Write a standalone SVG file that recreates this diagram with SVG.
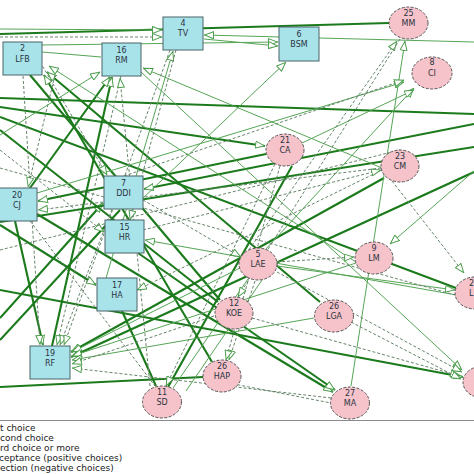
<svg xmlns="http://www.w3.org/2000/svg" width="474" height="474" viewBox="0 0 474 474">
<defs>
<style>
.sq{fill:#a9e3ea;stroke:#4a6468;stroke-width:1}
.ci{fill:#f6c3ca;stroke:#555;stroke-width:1;stroke-dasharray:3,1.5}
.lb{font-family:"DejaVu Sans",Verdana,sans-serif;font-size:8px;fill:#2a3340;text-anchor:middle}
.t{stroke:#1b7a1b;stroke-width:2.1;fill:none}
.s{stroke:#55a555;stroke-width:1;fill:none}
.d{stroke:#66856a;stroke-width:1;stroke-dasharray:3,2;fill:none}
.lg{font-family:"DejaVu Sans",Verdana,sans-serif;font-size:9px;fill:#222}
</style>
<marker id="ah" viewBox="0 0 10 8" refX="10" refY="4" markerWidth="10" markerHeight="8" markerUnits="userSpaceOnUse" orient="auto">
<path d="M0.5,0.5 L9.5,4 L0.5,7.5 Z" fill="#fff" stroke="#4c9e4c" stroke-width="1"/>
</marker>
</defs>
<rect width="474" height="474" fill="#fff"/>

<g id="connectors">
<!-- thick: first choice -->
<path class="t" d="M0,34 L389,23"/>
<path class="t" d="M0,98 L474,114"/>
<path class="t" d="M0,107 L265,146" marker-end="url(#ah)"/>
<path class="t" d="M0,117 L456,288"/>
<path class="t" d="M30,75 L220,300"/>
<path class="t" d="M320,302 L47,72" marker-end="url(#ah)"/>
<path class="t" d="M212,362 L44,75" marker-end="url(#ah)"/>
<path class="t" d="M384,178 L71,352" marker-end="url(#ah)"/>
<path class="t" d="M474,172 L71,357" marker-end="url(#ah)"/>
<path class="t" d="M37,214 L333,392" marker-end="url(#ah)"/>
<path class="t" d="M138,253 L335,390" marker-end="url(#ah)"/>
<path class="t" d="M0,290 L463,377" marker-end="url(#ah)"/>
<path class="t" d="M0,387 L203,377"/>
<path class="t" d="M122,311 L156,386"/>
<path class="t" d="M52,346 L112,77" marker-end="url(#ah)"/>
<path class="t" d="M30,188 L110,77" marker-end="url(#ah)"/>
<path class="t" d="M0,318 L103,203" marker-end="url(#ah)"/>
<path class="t" d="M266,154 L38,201" marker-end="url(#ah)"/>
<path class="t" d="M474,124 L144,189" marker-end="url(#ah)"/>
<path class="t" d="M0,225 L96,285" marker-end="url(#ah)"/>
<path class="t" d="M0,130 L218,302"/>
<path class="t" d="M0,340 L120,210"/>
<path class="t" d="M15,221 L43,345" marker-end="url(#ah)"/>
<path class="t" d="M168,387 L292,166"/>
<path class="t" d="M0,222 L474,147"/>
<!-- thin solid: second choice -->
<path class="s" d="M0,29 L162,30" marker-end="url(#ah)"/>
<path class="s" d="M474,42 L204,35" marker-end="url(#ah)"/>
<path class="s" d="M42,45 L278,42" marker-end="url(#ah)"/>
<path class="s" d="M204,39 L278,46" marker-end="url(#ah)"/>
<path class="s" d="M42,52 L101,57"/>
<path class="s" d="M141,200 L286,62" marker-end="url(#ah)"/>
<path class="s" d="M106,278 L173,51" marker-end="url(#ah)"/>
<path class="s" d="M0,135 L100,72" marker-end="url(#ah)"/>
<path class="s" d="M356,262 L49,66" marker-end="url(#ah)"/>
<path class="s" d="M382,168 L143,68" marker-end="url(#ah)"/>
<path class="s" d="M240,268 L72,352" marker-end="url(#ah)"/>
<path class="s" d="M356,263 L72,356" marker-end="url(#ah)"/>
<path class="s" d="M314,318 L72,360" marker-end="url(#ah)"/>
<path class="s" d="M173,388 L248,279"/>
<path class="s" d="M351,386 L405,41" marker-end="url(#ah)"/>
<path class="s" d="M265,250 L414,88" marker-end="url(#ah)"/>
<path class="s" d="M474,171 L390,244" marker-end="url(#ah)"/>
<path class="s" d="M468,297 L145,240" marker-end="url(#ah)"/>
<path class="s" d="M37,193 L404,82" marker-end="url(#ah)"/>
<path class="s" d="M302,143 L414,90" marker-end="url(#ah)"/>
<path class="s" d="M277,266 L455,290" marker-end="url(#ah)"/>
<path class="s" d="M141,72 L462,370" marker-end="url(#ah)"/>
<path class="s" d="M186,391 L262,280"/>
<!-- dashed: third choice or more -->
<path class="d" d="M0,37 L162,37" marker-end="url(#ah)"/>
<path class="d" d="M23,76 L40,345" marker-end="url(#ah)"/>
<path class="d" d="M121,76 L57,345" marker-end="url(#ah)"/>
<path class="d" d="M112,209 L60,345" marker-end="url(#ah)"/>
<path class="d" d="M170,50 L64,345" marker-end="url(#ah)"/>
<path class="d" d="M214,316 L72,364" marker-end="url(#ah)"/>
<path class="d" d="M331,398 L72,368" marker-end="url(#ah)"/>
<path class="d" d="M255,281 L229,360" marker-end="url(#ah)"/>
<path class="d" d="M392,181 L464,273" marker-end="url(#ah)"/>
<path class="d" d="M243,258 L397,41" marker-end="url(#ah)"/>
<path class="d" d="M124,176 L404,80" marker-end="url(#ah)"/>
<path class="d" d="M277,272 L462,372" marker-end="url(#ah)"/>
<path class="d" d="M252,318 L460,376" marker-end="url(#ah)"/>
<path class="d" d="M351,322 L461,379" marker-end="url(#ah)"/>
<path class="d" d="M150,386 L120,78" marker-end="url(#ah)"/>
<path class="d" d="M55,75 L28,187" marker-end="url(#ah)"/>
<path class="d" d="M381,168 L38,210" marker-end="url(#ah)"/>
<path class="d" d="M40,62 L107,175" marker-end="url(#ah)"/>
<path class="d" d="M280,166 L226,360" marker-end="url(#ah)"/>
<path class="d" d="M275,164 L166,386" marker-end="url(#ah)"/>
<path class="d" d="M400,39 L238,297" marker-end="url(#ah)"/>
<path class="d" d="M382,170 L137,290" marker-end="url(#ah)"/>
<path class="d" d="M143,200 L241,257" marker-end="url(#ah)"/>
<path class="d" d="M143,230 L381,170" marker-end="url(#ah)"/>
<path class="d" d="M176,50 L130,220" marker-end="url(#ah)"/>
<path class="d" d="M277,262 L354,257" marker-end="url(#ah)"/>
<path class="d" d="M0,150 L104,232" marker-end="url(#ah)"/>
<path class="d" d="M30,221 L155,386"/>
<path class="d" d="M203,378 L331,403"/>
<path class="d" d="M0,250 L400,150"/>
<path class="d" d="M0,168 L473,300"/>
</g>

<g id="nodes">
<g id="n4"><rect class="sq" x="163" y="17" width="40" height="33"/><text class="lb" x="183" y="26">4</text><text class="lb" x="183" y="36">TV</text></g>
<g id="n2"><rect class="sq" x="3" y="42" width="39" height="33"/><text class="lb" x="22.5" y="51">2</text><text class="lb" x="22.5" y="62">LFB</text></g>
<g id="n16"><rect class="sq" x="102" y="43" width="39" height="33"/><text class="lb" x="121.5" y="53">16</text><text class="lb" x="121.5" y="63">RM</text></g>
<g id="n6"><rect class="sq" x="279" y="27" width="40" height="34"/><text class="lb" x="299" y="37">6</text><text class="lb" x="299" y="47">BSM</text></g>
<g id="n20"><rect class="sq" x="-3" y="188" width="40" height="33"/><text class="lb" x="17" y="198">20</text><text class="lb" x="17" y="208">CJ</text></g>
<g id="n7"><rect class="sq" x="104" y="176" width="39" height="33"/><text class="lb" x="123.5" y="186">7</text><text class="lb" x="123.5" y="196">DDI</text></g>
<g id="n15"><rect class="sq" x="105" y="220" width="39" height="33"/><text class="lb" x="124.5" y="230">15</text><text class="lb" x="124.5" y="240">HR</text></g>
<g id="n17"><rect class="sq" x="97" y="278" width="40" height="33"/><text class="lb" x="117" y="288">17</text><text class="lb" x="117" y="298">HA</text></g>
<g id="n19"><rect class="sq" x="30" y="346" width="40" height="33"/><text class="lb" x="50" y="356">19</text><text class="lb" x="50" y="366">RF</text></g>

<g id="n25"><ellipse class="ci" cx="408.5" cy="23" rx="19.5" ry="16"/><text class="lb" x="408.5" y="16">25</text><text class="lb" x="408.5" y="26">MM</text></g>
<g id="n8"><ellipse class="ci" cx="432" cy="73" rx="20" ry="16"/><text class="lb" x="432" y="65">8</text><text class="lb" x="432" y="76">CI</text></g>
<g id="n21"><ellipse class="ci" cx="285" cy="150" rx="19" ry="16"/><text class="lb" x="285" y="143">21</text><text class="lb" x="285" y="153">CA</text></g>
<g id="n23"><ellipse class="ci" cx="400" cy="166" rx="19" ry="16"/><text class="lb" x="400" y="159">23</text><text class="lb" x="400" y="169">CM</text></g>
<g id="n5"><ellipse class="ci" cx="258" cy="264" rx="19" ry="16"/><text class="lb" x="258" y="257">5</text><text class="lb" x="258" y="267">LAE</text></g>
<g id="n9"><ellipse class="ci" cx="374" cy="258" rx="19" ry="16"/><text class="lb" x="374" y="251">9</text><text class="lb" x="374" y="261">LM</text></g>
<g id="n22"><ellipse class="ci" cx="475" cy="293" rx="20" ry="16"/><text class="lb" x="469" y="286" style="text-anchor:start">2</text><text class="lb" x="469" y="296" style="text-anchor:start">L</text></g>
<g id="n12"><ellipse class="ci" cx="234" cy="313" rx="19" ry="16"/><text class="lb" x="234" y="306">12</text><text class="lb" x="234" y="316">KOE</text></g>
<g id="n26a"><ellipse class="ci" cx="334" cy="316" rx="19.5" ry="16"/><text class="lb" x="334" y="309">26</text><text class="lb" x="334" y="319">LGA</text></g>
<g id="n26b"><ellipse class="ci" cx="222" cy="376" rx="19" ry="16"/><text class="lb" x="222" y="369">26</text><text class="lb" x="222" y="379">HAP</text></g>
<g id="n11"><ellipse class="ci" cx="162" cy="402" rx="19.5" ry="16"/><text class="lb" x="162" y="395">11</text><text class="lb" x="162" y="405">SD</text></g>
<g id="n27"><ellipse class="ci" cx="350" cy="403" rx="19.5" ry="16"/><text class="lb" x="350" y="396">27</text><text class="lb" x="350" y="406">MA</text></g>
<g id="n24"><ellipse class="ci" cx="483" cy="382" rx="20" ry="16"/></g>
</g>

<g id="legend">
<line x1="0" y1="420.5" x2="474" y2="420.5" stroke="#8a8a8a" stroke-width="1.2"/>
<text class="lg" x="0" y="431">t choice</text>
<text class="lg" x="0" y="441">cond choice</text>
<text class="lg" x="0" y="451">rd choice or more</text>
<text class="lg" x="-1" y="461" fill="#000">ceptance (positive choices)</text>
<text class="lg" x="0" y="471">ection (negative choices)</text>
</g>
</svg>
